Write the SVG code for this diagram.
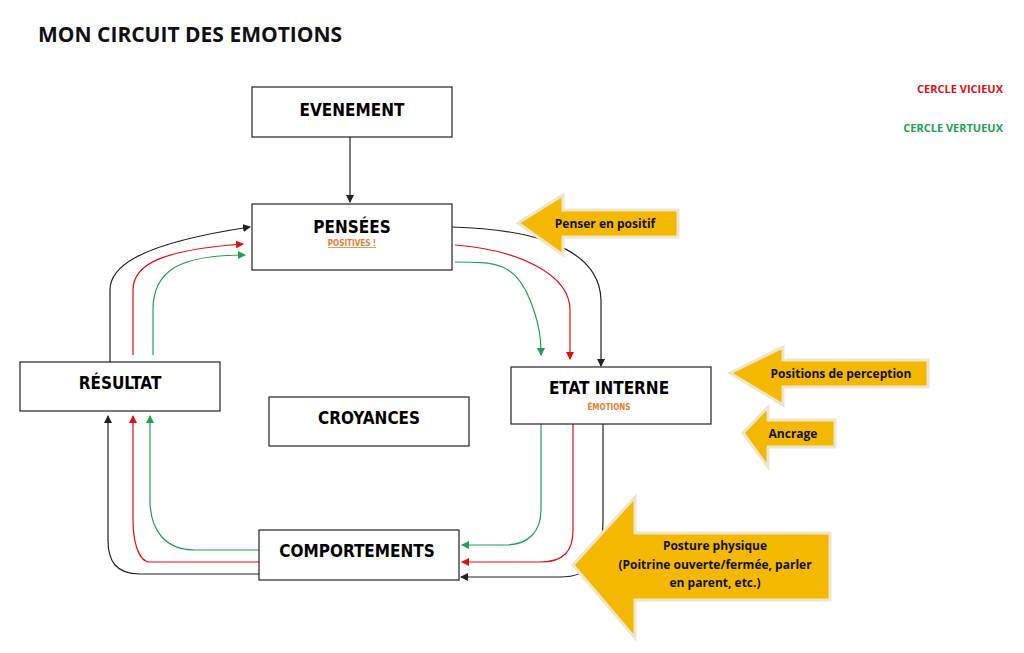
<svg xmlns="http://www.w3.org/2000/svg" width="1024" height="653" viewBox="0 0 1024 653">
<style>
.box{fill:#fff;stroke:#222;stroke-width:1.2}
.lbl{font-family:"DejaVu Sans Condensed","DejaVu Sans",sans-serif;font-weight:bold;font-size:17px;text-anchor:middle;fill:#000}
.sub{font-family:"DejaVu Sans Condensed",sans-serif;font-weight:bold;font-size:8px;text-anchor:middle}
.c{fill:none;stroke-width:1.2}
.k{stroke:#222}.r{stroke:#e01010}.g{stroke:#20a050}
.ya{fill:#f5b800;stroke:#eee6c8;stroke-width:3}
.yt{font-family:"Open Sans","Liberation Sans",sans-serif;font-weight:bold;font-size:12px;text-anchor:middle;fill:#111}
</style>
<defs>
<marker id="mk" markerWidth="8" markerHeight="8" refX="7" refY="4" orient="auto" markerUnits="userSpaceOnUse"><path d="M0,0L8,4L0,8z" fill="#222"/></marker>
<marker id="mr" markerWidth="8" markerHeight="8" refX="7" refY="4" orient="auto" markerUnits="userSpaceOnUse"><path d="M0,0L8,4L0,8z" fill="#e01010"/></marker>
<marker id="mg" markerWidth="8" markerHeight="8" refX="7" refY="4" orient="auto" markerUnits="userSpaceOnUse"><path d="M0,0L8,4L0,8z" fill="#20a050"/></marker>
</defs>
<rect width="1024" height="653" fill="#fff"/>
<text x="38" y="42" font-family="Open Sans,Liberation Sans,sans-serif" font-weight="bold" font-size="21" fill="#111">MON CIRCUIT DES EMOTIONS</text>
<text x="1003" y="93" font-family="Open Sans,Liberation Sans,sans-serif" font-weight="bold" font-size="11" fill="#e01010" text-anchor="end">CERCLE VICIEUX</text>
<text x="1003" y="132" font-family="Open Sans,Liberation Sans,sans-serif" font-weight="bold" font-size="11" fill="#20a050" text-anchor="end">CERCLE VERTUEUX</text>
<g id="connectors">
<path class="c k" d="M350,137V202" marker-end="url(#mk)"/>
<path class="c k" d="M452,227C560,230 600,260 601,300V366" marker-end="url(#mk)"/>
<path class="c k" d="M603,424V520C603,560 590,577 560,577H461" marker-end="url(#mk)"/>
<path class="c k" d="M259,574H140C115,574 108,560 108,540V416" marker-end="url(#mk)"/>
<path class="c k" d="M110,362V290C110,270 130,245 250,227" marker-end="url(#mk)"/>
<path class="c r" d="M455,245C520,250 570,275 570,310V359" marker-end="url(#mr)"/>
<path class="c r" d="M573,424V530C573,550 565,562 540,562H462" marker-end="url(#mr)"/>
<path class="c r" d="M259,562H150C138,562 133,540 133,520V416" marker-end="url(#mr)"/>
<path class="c r" d="M133,355V290C133,265 160,250 243,244" marker-end="url(#mr)"/>
<path class="c g" d="M455,262C495,262 515,262 530,300C540,325 541,340 541,355" marker-end="url(#mg)"/>
<path class="c g" d="M541,424V510C541,530 530,545 505,545H462" marker-end="url(#mg)"/>
<path class="c g" d="M259,550H195C165,550 150,530 150,500V416" marker-end="url(#mg)"/>
<path class="c g" d="M153,355V310C153,270 180,255 245,255" marker-end="url(#mg)"/>
</g>
<g id="evenement"><rect class="box" x="252" y="87" width="200" height="50"/><text class="lbl" x="352" y="116">EVENEMENT</text></g>
<g id="pensees"><rect class="box" x="252" y="204" width="200" height="66"/><text class="lbl" x="352" y="233">PENSÉES</text><text class="sub" x="352" y="246" fill="#e08030" text-decoration="underline">POSITIVES !</text></g>
<g id="etat"><rect class="box" x="511" y="367" width="200" height="57"/><text class="lbl" x="609" y="394">ETAT INTERNE</text><text class="sub" x="609" y="410" fill="#e08030">ÉMOTIONS</text></g>
<g id="resultat"><rect class="box" x="20" y="362" width="200" height="49"/><text class="lbl" x="120" y="389">RÉSULTAT</text></g>
<g id="croyances"><rect class="box" x="269" y="397" width="200" height="49"/><text class="lbl" x="369" y="424">CROYANCES</text></g>
<g id="comportements"><rect class="box" x="259" y="530" width="200" height="50"/><text class="lbl" x="357" y="557">COMPORTEMENTS</text></g>
<g id="arrow-penser"><path class="ya" d="M518,223L563,195V210H678V237H563V255Z"/><text class="yt" x="605" y="228">Penser en positif</text></g>
<g id="arrow-positions"><path class="ya" d="M730,373L783,347V360H928V387H783V405Z"/><text class="yt" x="841" y="378">Positions de perception</text></g>
<g id="arrow-ancrage"><path class="ya" d="M743,433L768,407V420H835V447H768V467Z"/><text class="yt" x="793" y="438">Ancrage</text></g>
<g id="arrow-posture"><path class="ya" d="M573,565L635,497V533H830V600H635V638Z"/><text class="yt" x="715" y="550">Posture physique</text><text class="yt" x="715" y="569">(Poitrine ouverte/fermée, parler</text><text class="yt" x="715" y="587">en parent, etc.)</text></g>
</svg>
